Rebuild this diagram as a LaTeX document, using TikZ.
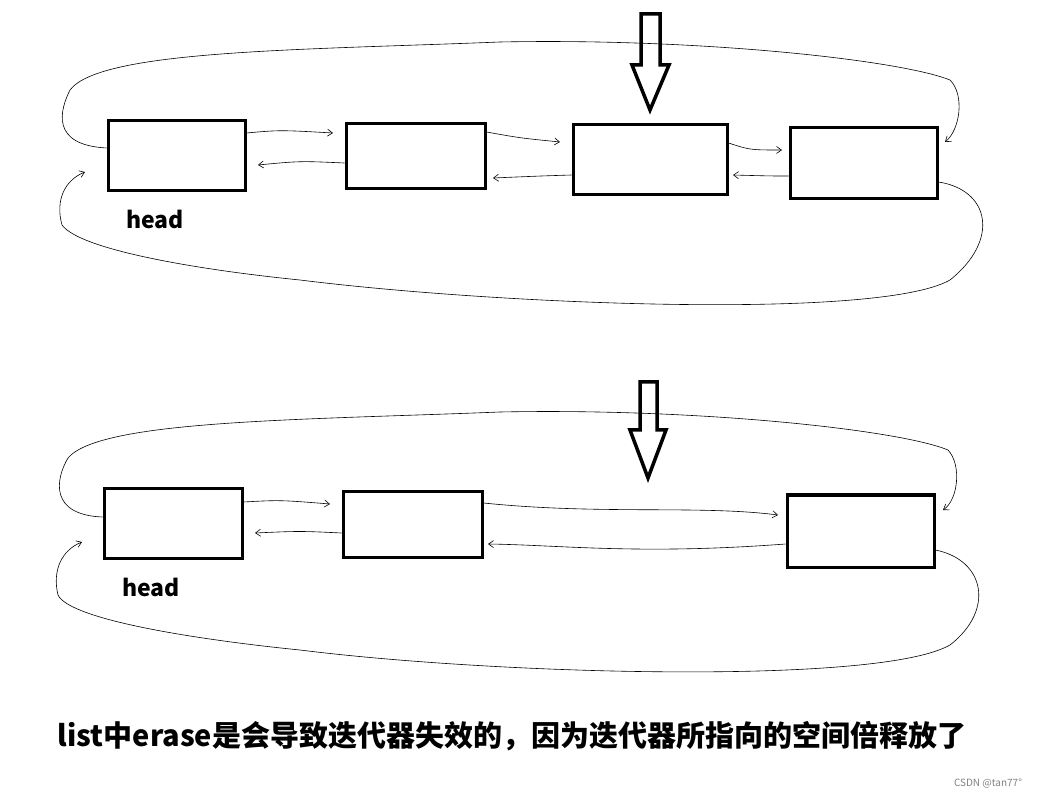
\documentclass[tikz,border=0pt]{standalone}
\usepackage{fontspec}
\newfontfamily\cjk{Noto Sans CJK SC}
\usetikzlibrary{arrows.meta}
\begin{document}
\begin{tikzpicture}[x=1pt,y=-1pt,
  box/.style={draw,line width=3pt,inner sep=0pt},
  con/.style={line width=0.6pt,-{Straight Barb[length=5pt,width=7pt]}},
  loop/.style={line width=0.6pt},
  big/.style={draw,line width=3.5pt,fill=white,line join=miter},
  lab/.style={font=\cjk\bfseries\fontsize{23}{26}\selectfont}]
\useasboundingbox (0,0) rectangle (1042,799);
% top row
\node[box,minimum width=137pt,minimum height=70pt] (a1) at (176.5,156) {};
\node[box,minimum width=139pt,minimum height=65pt] (a2) at (415.5,156.5) {};
\node[box,minimum width=154pt,minimum height=70pt] (a3) at (650,160) {};
\node[box,minimum width=147pt,minimum height=71pt] (a4) at (863.5,163.5) {};
\draw[big] (641,14) -- (660,14) -- (660,65) -- (669,65) -- (650,110) -- (632,65) -- (641,65) -- cycle;
\node[lab] (h1) at (155,219) {head};
\draw[con] (a1.east|-0,133) .. controls (280,130) .. (333,133);
\draw[con] (a2.west|-0,163) .. controls (300,161) .. (258,165);
\draw[con] (a2.east|-0,132) .. controls (520,138) .. (560,142);
\draw[con] (a3.west|-0,175) .. controls (540,176) .. (493,178);
\draw[con] (a3.east|-0,143) .. controls (750,150) .. (782,150);
\draw[con] (a4.west|-0,176) .. controls (770,176) .. (733,175);
\draw[loop,-{Straight Barb[length=5pt,width=7pt]}] (a1.west|-0,148) .. controls (50,145) and (60,110) .. (70,90)
  .. controls (100,50) and (300,50) .. (500,42) .. controls (700,38) and (900,60) .. (950,80)
  .. controls (965,95) and (960,130) .. (945,142);
\draw[loop,-{Straight Barb[length=5pt,width=7pt]}] (a4.east|-0,182) .. controls (990,190) and (1000,240) .. (950,280)
  .. controls (880,320) and (500,305) .. (300,280) .. controls (200,270) and (80,250) .. (62,225)
  .. controls (55,200) and (65,180) .. (85,172);
% bottom row
\node[box,minimum width=138pt,minimum height=69pt] (b1) at (173,523.5) {};
\node[box,minimum width=139pt,minimum height=65pt] (b2) at (412.5,524.5) {};
\node[box,minimum width=147pt,minimum height=72pt] (b3) at (860.5,531) {};
\draw[big] (640,382) -- (657,382) -- (657,430) -- (666,430) -- (648,478) -- (630,430) -- (640,430) -- cycle;
\node[lab] (h2) at (151,587) {head};
\draw[con] (b1.east|-0,502) .. controls (280,500) .. (330,504);
\draw[con] (b2.west|-0,533) .. controls (300,531) .. (255,533);
\draw[con] (b2.east|-0,503) .. controls (600,515) and (700,505) .. (778,515);
\draw[con] (b3.west|-0,544) .. controls (640,555) and (560,545) .. (488,544);
\draw[loop,-{Straight Barb[length=5pt,width=7pt]}] (b1.west|-0,517) .. controls (50,515) and (55,480) .. (68,458)
  .. controls (100,420) and (300,420) .. (500,412) .. controls (700,408) and (900,430) .. (948,450)
  .. controls (962,465) and (958,500) .. (943,510);
\draw[loop,-{Straight Barb[length=5pt,width=7pt]}] (b3.east|-0,550) .. controls (985,560) and (995,610) .. (950,645)
  .. controls (880,685) and (500,675) .. (300,650) .. controls (200,640) and (70,620) .. (58,595)
  .. controls (52,570) and (62,550) .. (82,542);
\node[lab,font=\cjk\bfseries\fontsize{29}{32}\selectfont] (cap) at (512,736) {list中erase是会导致迭代器失效的，因为迭代器所指向的空间倍释放了};
\node[text=gray,font=\fontsize{10}{12}\selectfont\cjk] (wm) at (988,784) {CSDN @tan77°};
\end{tikzpicture}
\end{document}
